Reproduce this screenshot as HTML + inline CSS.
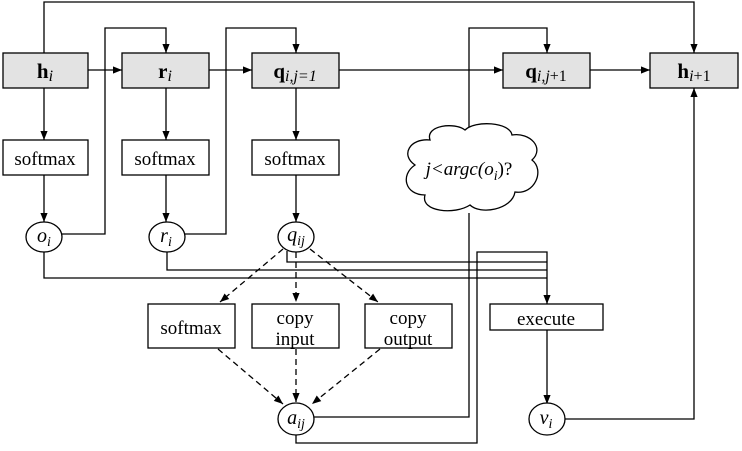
<!DOCTYPE html><html><head><style>body{margin:0;background:#fff}text{font-family:"Liberation Serif",serif;fill:#000}</style></head><body>
<svg width="742" height="446" viewBox="0 0 742 446" xmlns="http://www.w3.org/2000/svg">
<defs><marker id="b" viewBox="0 0 10 10" refX="10" refY="5" markerWidth="11" markerHeight="9" orient="auto" markerUnits="userSpaceOnUse"><path d="M0,1L10,5L0,9z"/></marker></defs>
<g fill="none" stroke="#000" stroke-width="1.3">
<polyline points="44,53 44,2 694,2 694,53" marker-end="url(#b)"/>
<line x1="88" y1="70" x2="122" y2="70" marker-end="url(#b)"/>
<line x1="209" y1="70" x2="252" y2="70" marker-end="url(#b)"/>
<line x1="339" y1="70" x2="503" y2="70" marker-end="url(#b)"/>
<line x1="590" y1="70" x2="650" y2="70" marker-end="url(#b)"/>
<polyline points="62,234 105,234 105,28 166,28 166,53" marker-end="url(#b)"/>
<polyline points="185,234 226,234 226,28 296,28 296,53" marker-end="url(#b)"/>
<polyline points="469,128 469,28 547,28 547,53" marker-end="url(#b)"/>
<line x1="44" y1="88" x2="44" y2="140" marker-end="url(#b)"/>
<line x1="166" y1="88" x2="166" y2="140" marker-end="url(#b)"/>
<line x1="296" y1="88" x2="296" y2="140" marker-end="url(#b)"/>
<line x1="44" y1="175" x2="44" y2="222" marker-end="url(#b)"/>
<line x1="166" y1="175" x2="166" y2="222" marker-end="url(#b)"/>
<line x1="296" y1="175" x2="296" y2="222" marker-end="url(#b)"/>
<polyline points="314,417 469,417 469,213"/>
<polyline points="287,251 287,262 547,262"/>
<polyline points="167,252 167,270 547,270"/>
<polyline points="44,252 44,278 547,278"/>
<polyline points="296,434 296,443 477,443 477,252 547,252 547,304" marker-end="url(#b)"/>
<line x1="547" y1="330" x2="547" y2="404" marker-end="url(#b)"/>
<polyline points="565,419 694,419 694,88" marker-end="url(#b)"/>
<g stroke-dasharray="6,4">
<line x1="283" y1="249" x2="220" y2="302" marker-end="url(#b)"/>
<line x1="296" y1="252" x2="296" y2="302" marker-end="url(#b)"/>
<line x1="310" y1="249" x2="378" y2="302" marker-end="url(#b)"/>
<line x1="218" y1="349" x2="283" y2="404" marker-end="url(#b)"/>
<line x1="296" y1="349" x2="296" y2="402" marker-end="url(#b)"/>
<line x1="380" y1="349" x2="312" y2="404" marker-end="url(#b)"/>
</g>
<g fill="#e3e3e3">
<rect x="3" y="53" width="85" height="35"/><rect x="122" y="53" width="87" height="35"/><rect x="252" y="53" width="87" height="35"/><rect x="503" y="53" width="87" height="35"/><rect x="650" y="53" width="88" height="35"/></g>
<g fill="#fff">
<rect x="3" y="140" width="85" height="35"/><rect x="122" y="140" width="87" height="35"/><rect x="252" y="140" width="87" height="35"/>
<rect x="148" y="304" width="87" height="44"/><rect x="252" y="304" width="87" height="44"/><rect x="365" y="304" width="87" height="44"/>
<rect x="490" y="304" width="113" height="26"/>
<ellipse cx="44" cy="237" rx="18" ry="15"/><ellipse cx="167" cy="237" rx="18" ry="15"/><ellipse cx="296" cy="237" rx="18" ry="15"/>
<ellipse cx="296" cy="419" rx="18" ry="16"/><ellipse cx="547" cy="419" rx="18" ry="16"/>
<path d="M430,140 C425,125 455,122 465,130 C475,120 510,122 512,135 C530,132 545,148 532,160 C545,170 535,195 515,192 C512,210 480,215 470,205 C455,215 420,212 425,195 C405,195 400,175 415,165 C400,155 410,138 430,140Z"/>
</g></g>
<g font-size="21" text-anchor="middle">
<text x="45" y="78"><tspan font-weight="bold">h</tspan><tspan font-style="italic" font-size="16" dy="3">i</tspan></text>
<text x="165" y="78"><tspan font-weight="bold">r</tspan><tspan font-style="italic" font-size="16" dy="3">i</tspan></text>
<text x="295" y="78"><tspan font-weight="bold">q</tspan><tspan font-style="italic" font-size="16" dy="3">i,j=1</tspan></text>
<text x="546" y="78"><tspan font-weight="bold">q</tspan><tspan font-style="italic" font-size="16" dy="3">i,j</tspan><tspan font-size="16">+1</tspan></text>
<text x="694" y="78"><tspan font-weight="bold">h</tspan><tspan font-style="italic" font-size="16" dy="3">i</tspan><tspan font-size="16">+1</tspan></text>
</g>
<g font-size="19" text-anchor="middle">
<text x="45" y="165">softmax</text><text x="165" y="165">softmax</text><text x="295" y="165">softmax</text>
<text x="191" y="334">softmax</text>
<text x="295" y="324">copy</text><text x="295" y="345">input</text>
<text x="408" y="324">copy</text><text x="408" y="345">output</text>
<text x="546" y="325">execute</text>
</g>
<g font-size="20" font-style="italic" text-anchor="middle">
<text x="44" y="242">o<tspan font-size="14" dy="4">i</tspan></text>
<text x="166" y="242">r<tspan font-size="14" dy="4">i</tspan></text>
<text x="296" y="241">q<tspan font-size="14" dy="4">ij</tspan></text>
<text x="296" y="424">a<tspan font-size="14" dy="4">ij</tspan></text>
<text x="546" y="424">v<tspan font-size="14" dy="4">i</tspan></text>
<text x="469" y="175" font-size="19">j&lt;argc(o<tspan font-size="14" dy="5">i</tspan><tspan dy="-5" font-style="normal">)?</tspan></text>
</g>
</svg></body></html>
